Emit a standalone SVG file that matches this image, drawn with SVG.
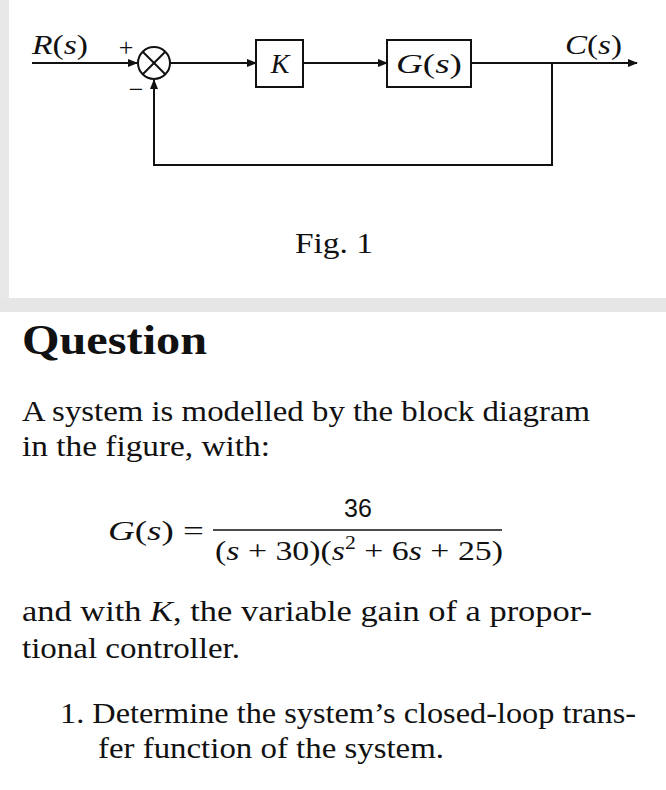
<svg xmlns="http://www.w3.org/2000/svg" width="666" height="790" viewBox="0 0 666 790">
<style>
.ln{stroke:#111;stroke-width:2;fill:none}
.t{font-family:"Liberation Serif",serif;fill:#111}
.i{font-style:italic}
</style>
<defs><marker id="ar" markerWidth="10" markerHeight="8" refX="9" refY="4" orient="auto" markerUnits="userSpaceOnUse"><path d="M0,0 L10,4 L0,8 Z" fill="#111"/></marker></defs>
<rect width="666" height="790" fill="#fff"/>
<rect x="0" y="0" width="9" height="300" fill="#e8e8e8"/>
<rect x="0" y="298" width="666" height="14" fill="#e6e6e6"/>
<g id="connectors">
<line class="ln" x1="32" y1="63" x2="137" y2="63" marker-end="url(#ar)"/>
<line class="ln" x1="170" y1="63" x2="256" y2="63" marker-end="url(#ar)"/>
<line class="ln" x1="303" y1="63" x2="387" y2="63" marker-end="url(#ar)"/>
<line class="ln" x1="471" y1="63" x2="637" y2="63" marker-end="url(#ar)"/>
<polyline class="ln" points="552,63 552,165 154,165 154,80" marker-end="url(#ar)"/>
</g>
<g id="sum"><circle class="ln" cx="154" cy="63" r="16"/><line class="ln" x1="143" y1="52" x2="165" y2="74"/><line class="ln" x1="165" y1="52" x2="143" y2="74"/>
<text class="t" x="126" y="56" font-size="26" text-anchor="middle">+</text><text class="t" x="136" y="98" font-size="26" text-anchor="middle">−</text></g>
<g id="K"><rect class="ln" x="256" y="40" width="47" height="47"/><text class="t i" x="280" y="73" font-size="28" text-anchor="middle">K</text></g>
<g id="G"><rect class="ln" x="387" y="40" width="84" height="47"/><text class="t" x="396" y="73" font-size="28" textLength="66" lengthAdjust="spacingAndGlyphs"><tspan class="i">G</tspan>(<tspan class="i">s</tspan>)</text></g>
<text class="t" x="32" y="54" font-size="28" textLength="56" lengthAdjust="spacingAndGlyphs"><tspan class="i">R</tspan>(<tspan class="i">s</tspan>)</text>
<text class="t" x="565" y="54" font-size="28" textLength="57" lengthAdjust="spacingAndGlyphs"><tspan class="i">C</tspan>(<tspan class="i">s</tspan>)</text>
<text class="t" x="295" y="253" font-size="30" textLength="78" lengthAdjust="spacingAndGlyphs">Fig. 1</text>
<text class="t" x="22" y="354" font-size="42" font-weight="bold" textLength="185" lengthAdjust="spacingAndGlyphs">Question</text>
<text class="t" x="22" y="421" font-size="29" textLength="568" lengthAdjust="spacingAndGlyphs">A system is modelled by the block diagram</text>
<text class="t" x="22" y="456" font-size="29" textLength="248" lengthAdjust="spacingAndGlyphs">in the figure, with:</text>
<text class="t" x="108" y="540" font-size="28" textLength="96" lengthAdjust="spacingAndGlyphs"><tspan class="i">G</tspan>(<tspan class="i">s</tspan>) =</text>
<text x="358" y="517" font-size="25" font-family="Liberation Sans,sans-serif" fill="#111" text-anchor="middle">36</text>
<line x1="213" y1="530" x2="502" y2="530" stroke="#111" stroke-width="1.5"/>
<text class="t" x="215" y="560" font-size="28" textLength="288" lengthAdjust="spacingAndGlyphs">(<tspan class="i">s</tspan> + 30)(<tspan class="i">s</tspan><tspan font-size="18" dy="-11">2</tspan><tspan dy="11"> + 6</tspan><tspan class="i">s</tspan> + 25)</text>
<text class="t" x="22" y="621" font-size="29" textLength="570" lengthAdjust="spacingAndGlyphs">and with <tspan class="i">K</tspan>, the variable gain of a propor-</text>
<text class="t" x="22" y="658" font-size="29" textLength="218" lengthAdjust="spacingAndGlyphs">tional controller.</text>
<text class="t" x="60" y="723" font-size="29" textLength="576" lengthAdjust="spacingAndGlyphs">1. Determine the system’s closed-loop trans-</text>
<text class="t" x="98" y="758" font-size="29" textLength="346" lengthAdjust="spacingAndGlyphs">fer function of the system.</text>
</svg>
